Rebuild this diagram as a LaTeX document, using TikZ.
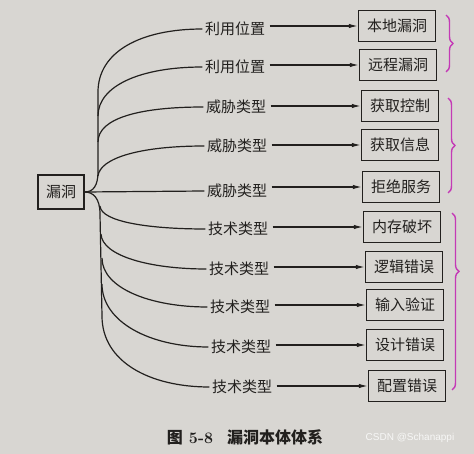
\documentclass[tikz,border=0pt]{standalone}
\usepackage{fontspec}
\newfontfamily\cjk{Noto Sans CJK SC}
\newfontfamily\wmfont{Liberation Sans}
\usetikzlibrary{arrows.meta,decorations.pathreplacing}
\definecolor{paper}{RGB}{216,214,210}
\definecolor{ink}{RGB}{34,32,30}
\definecolor{pen}{RGB}{196,58,182}

\begin{document}
\begin{tikzpicture}[x=1pt,y=-1pt,color=ink,line width=1.2pt,
        vbox/.style={draw, line width=1.5pt, minimum width=77pt,
                        minimum height=31pt, inner sep=0pt,
                        font=\cjk\fontsize{15}{17}\selectfont},
        vlab/.style={inner sep=2pt, font=\cjk\fontsize{15}{17}\selectfont},
        arr/.style={-{Latex[length=9pt,width=4.5pt]}, shorten <=2pt},
        hb/.style={draw=pen, line width=1.4pt, decorate,
                        decoration={brace, amplitude=7pt}}]
    \fill[paper] (0,0) rectangle (474,454);
    \useasboundingbox (0,0) rectangle (474,454);

    \node[vbox, minimum width=46pt, minimum height=34pt] (v) at (61,192) {漏洞};

    % labels on the branches
    \node[vlab] (l1) at (235,29) {利用位置};
    \node[vlab] (l2) at (235,67) {利用位置};
    \node[vlab] (l3) at (236,107) {威胁类型};
    \node[vlab] (l4) at (237,146) {威胁类型};
    \node[vlab] (l5) at (237,191) {威胁类型};
    \node[vlab] (l6) at (238,229) {技术类型};
    \node[vlab] (l7) at (239,269) {技术类型};
    \node[vlab] (l8) at (240,307) {技术类型};
    \node[vlab] (l9) at (241,347) {技术类型};
    \node[vlab] (l10) at (242,387) {技术类型};

    % leaf boxes
    \node[vbox] (b1) at (397,26) {本地漏洞};
    \node[vbox] (b2) at (398,65) {远程漏洞};
    \node[vbox] (b3) at (400,106) {获取控制};
    \node[vbox] (b4) at (400,145) {获取信息};
    \node[vbox] (b5) at (401,187) {拒绝服务};
    \node[vbox] (b6) at (402,227) {内存破坏};
    \node[vbox] (b7) at (404,267) {逻辑错误};
    \node[vbox] (b8) at (405,305) {输入验证};
    \node[vbox] (b9) at (405,345) {设计错误};
    \node[vbox] (b10) at (407,386) {配置错误};

    \draw[arr] (l1.east |- b1.west) -- (b1.west);
    \draw[arr] (l2.east |- b2.west) -- (b2.west);
    \draw[arr] (l3.east |- b3.west) -- (b3.west);
    \draw[arr] (l4.east |- b4.west) -- (b4.west);
    \draw[arr] (l5.east |- b5.west) -- (b5.west);
    \draw[arr] (l6.east |- b6.west) -- (b6.west);
    \draw[arr] (l7.east |- b7.west) -- (b7.west);
    \draw[arr] (l8.east |- b8.west) -- (b8.west);
    \draw[arr] (l9.east |- b9.west) -- (b9.west);
    \draw[arr] (l10.east |- b10.west) -- (b10.west);

    % upper trunk
    \draw (v.east) .. controls (93,192) and (98,186) .. (98,172) -- (98,92)
        .. controls (98,52) and (140,29) .. (l1.west);
    \draw (98,116) .. controls (98,86) and (140,67) .. (l2.west);
    \draw (98,142) .. controls (98,118) and (140,107) .. (l3.west);
    \draw (98,176) .. controls (100,158) and (140,146) .. (l4.west);
    \draw (v.east) -- (l5.west);
    % lower trunk
    \draw (v.east) .. controls (93,192) and (100,198) .. (100,214) -- (102,316)
        .. controls (102,362) and (150,387) .. (l10.west);
    \draw (100,206) .. controls (101,222) and (150,229) .. (l6.west);
    \draw (101,234) .. controls (102,256) and (150,269) .. (l7.west);
    \draw (102,258) .. controls (102,288) and (150,307) .. (l8.west);
    \draw (102,284) .. controls (102,322) and (150,347) .. (l9.west);

    % hand marks
    \draw[hb] (446,15) -- (446,72);
    \draw[hb] (448,98) -- (448,193);
    \draw[hb, decoration={aspect=0.33}] (452,213) -- (452,390);

    \node[font=\bfseries\fontsize{16}{18}\selectfont] (cap) at (245,437)
        {{\cjk 图} 5-8\hspace{14pt}{\cjk 漏洞本体体系}};
    \node[font=\wmfont\fontsize{10}{12}\selectfont, text=white!80!paper]
        (wm) at (410,438) {CSDN @Schanappi};
\end{tikzpicture}
\end{document}
